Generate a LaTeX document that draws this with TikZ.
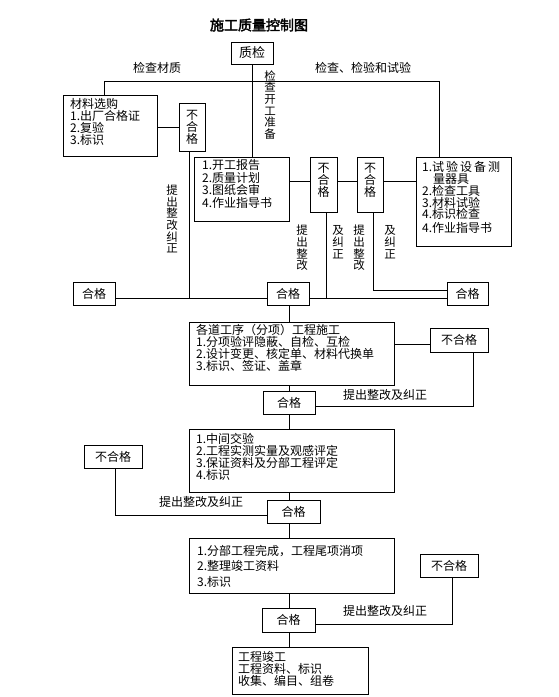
\documentclass[tikz,border=0pt]{standalone}
\usepackage{fontspec}
\newfontfamily\cjk{Noto Sans CJK SC}
\newfontfamily\cjkbold[FakeBold=2.5]{Noto Sans CJK SC}
\begin{document}
\begin{tikzpicture}[x=1pt,y=-1pt,
  box/.style={draw, line width=0.9pt, inner sep=0pt, font=\cjk\fontsize{12}{12}\selectfont},
  ln/.style={line width=0.9pt},
  txt/.style={font=\cjk\fontsize{12}{12.2}\selectfont, inner sep=0pt, align=left, text width=200pt, anchor=base west},
  lbl/.style={font=\cjk\fontsize{12}{12}\selectfont, inner sep=0pt},
  vtxt/.style={font=\cjk\fontsize{11.5}{11.7}\selectfont, inner sep=0pt, align=center, text width=12pt},
  vbox/.style={box, align=center, text width=12pt, font=\cjk\fontsize{12}{12}\selectfont},
  vin/.style={inner sep=0pt, align=center, text width=12pt, font=\cjk\fontsize{12}{12}\selectfont},
]
\useasboundingbox[fill=white] (0,0) rectangle (558,697);

% title
\node[font=\cjkbold\fontsize{14}{14}\selectfont, inner sep=0pt] (title) at (259,25) {施工质量控制图};

% top
\node[box, minimum width=42pt, minimum height=22pt, font=\cjk\fontsize{13}{13}\selectfont] (zj) at (252,53) {质检};
\node[lbl] (l1) at (157,68) {检查材质};
\node[lbl] (l2) at (363,68) {检查、检验和试验};
\node[vtxt] (l3) at (270,105) {检\\查\\开\\工\\准\\备};

% row 1 boxes
\node[box, minimum width=94pt, minimum height=61pt] (mat) at (110,125.5) {};
\node[txt, text width=90pt] (matt) at (70,108.3) {材料选购\\1.出厂合格证\\2.复验\\3.标识};
\node[vbox, minimum width=26pt, minimum height=48pt] (bh1) at (192,127) {不\\合\\格};

\node[box, minimum width=95pt, minimum height=64pt] (kg) at (241.5,189) {};
\node[txt, text width=90pt, font=\cjk\fontsize{12}{12.7}\selectfont] (kgt) at (202,169.3) {1.开工报告\\2.质量计划\\3.图纸会审\\4.作业指导书};
\node[box, minimum width=27pt, minimum height=55pt] (bh2) at (323.5,184.5) {};
\node[vin] (bh2t) at (323.5,180) {不\\合\\格};
\node[box, minimum width=26pt, minimum height=55pt] (bh3) at (370,184.5) {};
\node[vin] (bh3t) at (370,180) {不\\合\\格};

\node[box, minimum width=95pt, minimum height=89pt] (sy) at (463.5,201.5) {};
\node[txt, text width=90pt, font=\cjk\fontsize{12}{11.9}\selectfont] (syt) at (422,171.3) {1.试\,验\,设\,备\,测\\\hspace*{11pt}量器具\\2.检查工具\\3.材料试验\\4.标识检查\\[2pt]4.作业指导书};

% vertical labels
\node[vtxt] (v1) at (172,219) {提\\出\\整\\改\\纠\\正};
\node[vtxt] (v2) at (302,248) {提\\出\\整\\改};
\node[vtxt] (v3) at (338,242) {及\\纠\\正};
\node[vtxt] (v4) at (359,248) {提\\出\\整\\改};
\node[vtxt] (v5) at (390,242) {及\\纠\\正};

% row 2 qualified
\node[box, minimum width=42pt, minimum height=23pt] (hgl) at (94,293.5) {合格};
\node[box, minimum width=42pt, minimum height=23pt] (hgc) at (288,293.5) {合格};
\node[box, minimum width=41pt, minimum height=23pt] (hgr) at (467.5,293.5) {合格};

% process boxes
\node[box, minimum width=205pt, minimum height=63pt] (gd) at (291.5,353.5) {};
\node[txt] (gdt) at (196,334.3) {各道工序（分项）工程施工\\1.分项验评隐蔽、自检、互检\\2.设计变更、核定单、材料代换单\\3.标识、签证、盖章};
\node[box, minimum width=58pt, minimum height=24pt] (bh4) at (459,340) {不合格};
\node[box, minimum width=52pt, minimum height=23pt] (hg2) at (289,402.5) {合格};
\node[lbl] (lb1) at (385,395) {提出整改及纠正};

\node[box, minimum width=205pt, minimum height=63pt] (zj2) at (291.5,460.5) {};
\node[txt, font=\cjk\fontsize{12}{11.9}\selectfont] (zj2t) at (196,443.6) {1.中间交验\\2.工程实测实量及观感评定\\3.保证资料及分部工程评定\\4.标识};
\node[box, minimum width=58pt, minimum height=23pt] (bh5) at (113,456.5) {不合格};
\node[box, minimum width=53pt, minimum height=23pt] (hg3) at (293.5,511.5) {合格};
\node[lbl] (lb2) at (201,502) {提出整改及纠正};

\node[box, minimum width=205pt, minimum height=55pt] (fb) at (291.5,565.5) {};
\node[txt, font=\cjk\fontsize{12}{15.5}\selectfont] (fbt) at (197,555.3) {1.分部工程完成，工程尾项消项\\2.整理竣工资料\\3.标识};
\node[box, minimum width=58pt, minimum height=23pt] (bh6) at (449,565.5) {不合格};
\node[box, minimum width=53pt, minimum height=24pt] (hg4) at (288.5,620) {合格};
\node[lbl] (lb3) at (385,611) {提出整改及纠正};

\node[box, minimum width=136pt, minimum height=47pt] (jg) at (300,670.5) {};
\node[txt, text width=130pt, font=\cjk\fontsize{12}{12.3}\selectfont] (jgt) at (238,661) {工程竣工\\工程资料、标识\\收集、编目、组卷};

% helper coordinates
\coordinate (hl) at (104,81);
\coordinate (hr) at (439,81);
\coordinate (y127) at (0,127);
\coordinate (y181) at (0,181);
\coordinate (y290) at (0,290);
\coordinate (y298) at (0,298);
\coordinate (x189) at (189,0);
\coordinate (x326) at (326,0);
\coordinate (x373) at (373.5,0);
\coordinate (col) at (289,0);
\coordinate (y344) at (0,344);
\coordinate (x473) at (473,0);
\coordinate (y406) at (0,406);
\coordinate (x115) at (115,0);
\coordinate (y515) at (0,515);
\coordinate (x452) at (452,0);
\coordinate (y624) at (0,624);

% top connectors
\draw[ln] (hl) -- (hr);
\draw[ln] (hl) -- (hl |- mat.north);
\draw[ln] (hr) -- (hr |- sy.north);
\draw[ln] (zj.south) -- (zj.south |- kg.north);

% row 1 connectors
\draw[ln] (mat.east |- y127) -- (bh1.west |- y127);
\draw[ln] (kg.east |- y181) -- (bh2.west |- y181);
\draw[ln] (bh2.east |- y181) -- (bh3.west |- y181);
\draw[ln] (bh3.east |- y181) -- (sy.west |- y181);

% down to qualified row
\draw[ln] (x189 |- bh1.south) -- (x189 |- y298);
\draw[ln] (x326 |- bh2.south) -- (x326 |- y298);
\draw[ln] (x373 |- bh3.south) -- (x373 |- y290) -- (hgr.west |- y290);
\draw[ln] (hgl.east |- y298) -- (hgc.west |- y298);
\draw[ln] (hgc.east |- y298) -- (hgr.west |- y298);

% main column
\draw[ln] (col |- hgc.south) -- (col |- gd.north);
\draw[ln] (gd.east |- y344) -- (bh4.west |- y344);
\draw[ln] (x473 |- bh4.south) -- (x473 |- y406) -- (hg2.east |- y406);
\draw[ln] (col |- gd.south) -- (col |- hg2.north);
\draw[ln] (col |- hg2.south) -- (col |- zj2.north);
\draw[ln] (x115 |- bh5.south) -- (x115 |- y515) -- (hg3.west |- y515);
\draw[ln] (col |- zj2.south) -- (col |- hg3.north);
\draw[ln] (col |- hg3.south) -- (col |- fb.north);
\draw[ln] (x452 |- bh6.south) -- (x452 |- y624) -- (hg4.east |- y624);
\draw[ln] (col |- fb.south) -- (col |- hg4.north);
\draw[ln] (col |- hg4.south) -- (col |- jg.north);
\end{tikzpicture}
\end{document}
